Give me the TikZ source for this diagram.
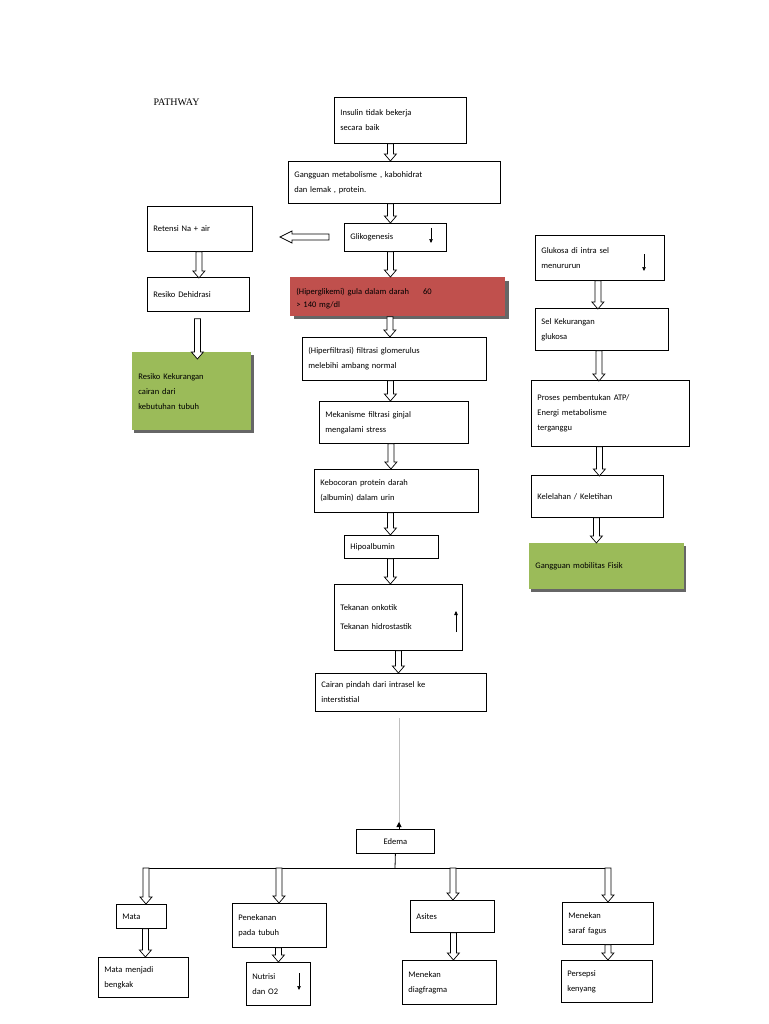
\documentclass[tikz,border=0pt]{standalone}
\usepackage{fontspec}
\setmainfont{Carlito}
\newfontfamily\serif{Liberation Serif}
\usetikzlibrary{calc,arrows.meta}
\definecolor{boxgreen}{HTML}{9BBB59}
\definecolor{boxred}{HTML}{C0504D}
\tikzset{
  box/.style={draw, line width=0.8pt, anchor=north west, align=left, inner sep=5pt,
    font=\fontsize{8.5}{15}\selectfont},
  hollow/.style={draw, line width=0.7pt, fill=white},
  tiny/.style={line width=0.5pt, -{Triangle[length=4pt,width=3.5pt]}},
}
% hollow block arrow pointing down from #1 to the height of #2
\newcommand\harr[2]{\path[hollow] let \p1=#1, \p2=#2 in
  ({\x1-3pt},\y1) -- ({\x1+3pt},\y1) -- ({\x1+3pt},{\y2+7pt}) -- ({\x1+6pt},{\y2+7pt})
  -- (\x1,\y2) -- ({\x1-6pt},{\y2+7pt}) -- ({\x1-3pt},{\y2+7pt}) -- cycle;}
\begin{document}
\begin{tikzpicture}[x=1pt,y=-1pt]
\useasboundingbox (0,0) rectangle (768,1024);
\node[font=\serif\fontsize{10}{12}\selectfont, anchor=west] (title) at (150,102) {PATHWAY};

% centre column
\node[box, minimum width=132, minimum height=46, text width=120] (ins) at (334,97) {Insulin tidak bekerja\\secara baik};
\node[box, minimum width=212, minimum height=42, text width=200] (gang) at (288,161) {Gangguan metabolisme , kabohidrat\\dan lemak , protein.};
\node[box, minimum width=102, minimum height=28, text width=90] (glik) at (344,223) {Glikogenesis};
\draw[tiny] (431,228) -- (431,243);
\fill[black!60] (294,281) rectangle (509,319);
\node[box, draw=none, fill=boxred, minimum width=215, minimum height=39, text width=203, text height=9pt] (hip) at (290,277) {(Hiperglikemi) gula dalam darah \quad\ 60\\[-2pt]{>} 140 mg/dl};
\node[box, minimum width=184, minimum height=43, text width=172] (filt) at (302,337) {(Hiperfiltrasi) filtrasi glomerulus\\melebihi ambang normal};
\node[box, minimum width=149, minimum height=42, text width=137] (mek) at (319,401) {Mekanisme filtrasi ginjal\\mengalami stress};
\node[box, minimum width=164, minimum height=43, text width=152] (kebo) at (314,469) {Kebocoran protein darah\\(albumin) dalam urin};
\node[box, minimum width=94, minimum height=23, text width=82] (hipo) at (344,535) {Hipoalbumin};
\node[box, minimum width=128, minimum height=66, text width=116] (tek) at (334,584) {Tekanan onkotik\\[4pt]Tekanan hidrostastik\\[4pt]};
\draw[tiny] (456,632) -- (456,611);
\node[box, minimum width=171, minimum height=38, text width=159] (cair) at (315,673) {Cairan pindah dari intrasel ke\\interstistial};
\node[box, minimum width=78, minimum height=24, text width=66, align=center] (ede) at (356,829) {Edema};
\coordinate (cairbot) at (399,718);
\coordinate (edetip) at (399,822);
\draw[black!25, line width=0.8pt] (cairbot) -- ([yshift=-8pt]edetip);
\draw[-{Triangle[length=5pt,width=5pt]}, line width=0.5pt] ([yshift=-8pt]edetip) -- (edetip);

% left column
\node[box, minimum width=105, minimum height=45, text width=93] (ret) at (147,206) {Retensi Na + air\\[4pt]};
\node[box, minimum width=102, minimum height=34, text width=90] (deh) at (147,277) {Resiko Dehidrasi\\[4pt]};
\fill[black!60] (134,355) rectangle (254,433);
\node[box, draw=none, fill=boxgreen, minimum width=119, minimum height=78, text width=107] (lgr) at (132,352) {Resiko Kekurangan\\cairan dari\\kebutuhan tubuh};

% right column
\node[box, minimum width=129, minimum height=45, text width=117] (glu) at (535,235) {Glukosa di intra sel\\menururun};
\draw[tiny] (644,254) -- (644,271);
\node[box, minimum width=133, minimum height=42, text width=121] (sel) at (535,308) {Sel Kekurangan\\glukosa};
\node[box, minimum width=158, minimum height=66, text width=146] (atp) at (531,380) {Proses pembentukan ATP/\\Energi metabolisme\\terganggu};
\node[box, minimum width=132, minimum height=42, text width=120] (kel) at (531,475) {Kelelahan / Keletihan\\[4pt]};
\fill[black!60] (531,546) rectangle (686,592);
\node[box, draw=none, fill=boxgreen, minimum width=155, minimum height=46, text width=143] (rgr) at (529,543) {Gangguan mobilitas Fisik};

% bottom row
\node[box, minimum width=50, minimum height=24, text width=38] (mata) at (116,904) {Mata};
\node[box, minimum width=90, minimum height=40, text width=78] (mata2) at (98,957) {Mata menjadi\\bengkak};
\node[box, minimum width=94, minimum height=44, text width=82] (pen) at (232,903) {Penekanan\\pada tubuh};
\node[box, minimum width=64, minimum height=43, text width=52] (nut) at (246,962) {Nutrisi\\dan O2};
\draw[tiny] (299,973) -- (299,990);
\node[box, minimum width=84, minimum height=32, text width=72] (asi) at (410,900) {Asites\\[4pt]};
\node[box, minimum width=94, minimum height=44, text width=82] (dia) at (402,960) {Menekan\\diagfragma};
\node[box, minimum width=91, minimum height=42, text width=79] (sar) at (562,902) {Menekan\\saraf fagus};
\node[box, minimum width=91, minimum height=42, text width=79] (per) at (561,960) {Persepsi\\kenyang};

% edema branches
\coordinate (split) at (395,868);
\draw[line width=0.8pt] (ede.south) -- (split);
\draw[line width=0.8pt] (146,868) -- (608,868);
\harr{(146,868)}{(mata.north)}
\harr{(279,868)}{(pen.north)}
\harr{(453,868)}{(asi.north)}
\harr{(608,868)}{(sar.north)}

% hollow arrows centre
\harr{([xshift=-10pt]ins.south)}{(gang.north)}
\harr{([xshift=-4pt]gang.south)}{(glik.north)}
\harr{([xshift=-5pt]glik.south)}{(hip.north)}
\harr{([xshift=-8pt]hip.south)}{(filt.north)}
\harr{([xshift=-4pt]filt.south)}{(mek.north)}
\harr{([xshift=-3pt]mek.south)}{(kebo.north)}
\harr{([xshift=-6pt]kebo.south)}{(hipo.north)}
\harr{([xshift=-1pt]hipo.south)}{(tek.north)}
\harr{(tek.south)}{(cair.north)}
% left arrow Glikogenesis -> Retensi
\path[hollow] (329,234) -- (329,240) -- (292,240) -- (292,243) -- (280,237) -- (292,231) -- (292,234) -- cycle;
\harr{([xshift=-1pt]ret.south)}{([yshift=-1pt]deh.north)}
\harr{([xshift=-1pt,yshift=-7pt]deh.south)}{([yshift=-7pt]lgr.north)}
% right arrows
\harr{([xshift=-2pt]glu.south)}{([yshift=-1pt]sel.north)}
\harr{([xshift=-3pt]sel.south)}{([yshift=-1pt]atp.north)}
\harr{([xshift=-11pt]atp.south)}{([yshift=-1pt]kel.north)}
\harr{([xshift=-1pt]kel.south)}{(rgr.north)}
% bottom arrows
\harr{([xshift=4pt]mata.south)}{(mata2.north)}
\harr{([xshift=-1pt]pen.south)}{(nut.north)}
\harr{([xshift=1pt]asi.south)}{(dia.north)}
\harr{([xshift=0pt]sar.south)}{(per.north)}
\end{tikzpicture}
\end{document}
